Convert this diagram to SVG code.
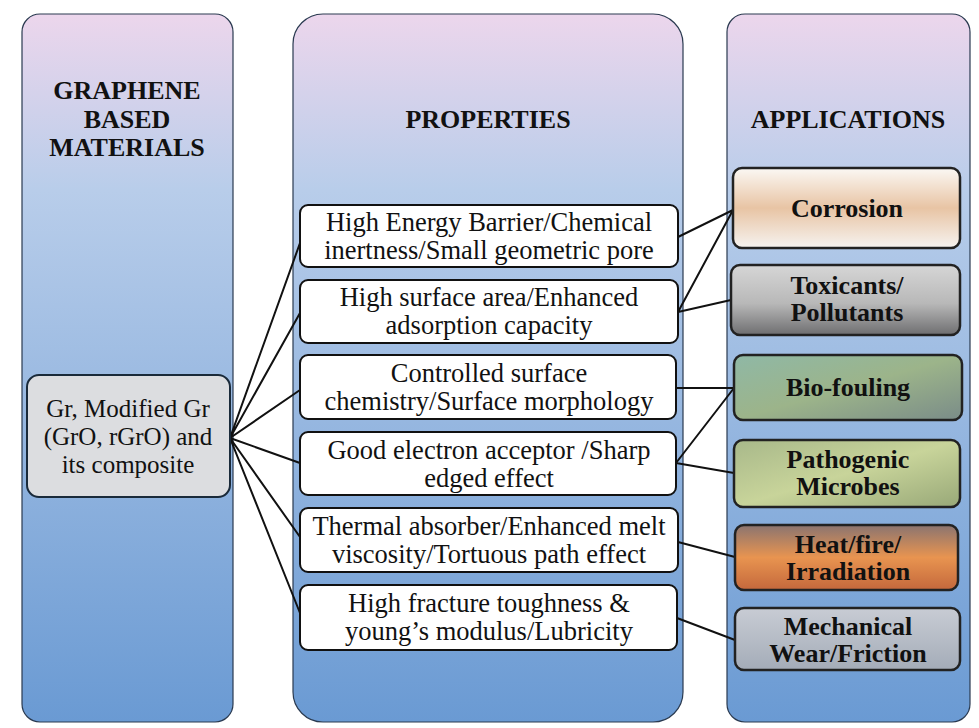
<svg xmlns="http://www.w3.org/2000/svg" width="979" height="728" viewBox="0 0 979 728">
<defs>
<linearGradient id="col" x1="0" y1="0" x2="0" y2="1">
<stop offset="0" stop-color="#ecd6ec"/><stop offset="0.25" stop-color="#b8cdea"/><stop offset="1" stop-color="#6a9ad3"/>
</linearGradient>
<linearGradient id="gCor" x1="0" y1="0" x2="0" y2="1"><stop offset="0" stop-color="#fbf8f4"/><stop offset="0.5" stop-color="#e8c4a4"/><stop offset="1" stop-color="#f6f3f0"/></linearGradient>
<linearGradient id="gTox" x1="0" y1="0" x2="0" y2="1"><stop offset="0" stop-color="#d6d6d6"/><stop offset="0.55" stop-color="#b8b8b8"/><stop offset="1" stop-color="#6e6e70"/></linearGradient>
<linearGradient id="gBio" x1="0" y1="0" x2="1" y2="1"><stop offset="0" stop-color="#8fb8a6"/><stop offset="0.5" stop-color="#9cb48a"/><stop offset="1" stop-color="#7a8c88"/></linearGradient>
<linearGradient id="gPat" x1="0" y1="0" x2="1" y2="1"><stop offset="0" stop-color="#a8b88a"/><stop offset="0.5" stop-color="#c8d49a"/><stop offset="1" stop-color="#98a878"/></linearGradient>
<linearGradient id="gHeat" x1="0" y1="0" x2="0" y2="1"><stop offset="0" stop-color="#8a7470"/><stop offset="0.5" stop-color="#e89450"/><stop offset="1" stop-color="#c4683c"/></linearGradient>
<linearGradient id="gMec" x1="0" y1="0" x2="0" y2="1"><stop offset="0" stop-color="#c8ccd4"/><stop offset="1" stop-color="#a4acb8"/></linearGradient>
</defs>
<style>
.col{fill:url(#col);stroke:#2a3a50;stroke-width:1.2}
.head{font-family:"Liberation Serif",serif;font-weight:bold;font-size:26px;fill:#111;text-anchor:middle}
.pbox{fill:#fff;stroke:#111;stroke-width:2}
.pt{font-family:"Liberation Serif",serif;font-size:26.5px;fill:#111;text-anchor:middle}
.gt{font-family:"Liberation Serif",serif;font-size:25px;fill:#111;text-anchor:middle}
.abox{stroke:#222;stroke-width:2.5}
.at{font-family:"Liberation Serif",serif;font-weight:bold;font-size:26px;fill:#111;text-anchor:middle}
.ln{stroke:#111;stroke-width:2;fill:none}
</style>
<g id="columns">
<rect class="col" x="22" y="14" width="211" height="708" rx="18"/>
<rect class="col" x="293" y="14" width="390" height="708" rx="30"/>
<rect class="col" x="727" y="14" width="243" height="708" rx="18"/>
<text class="head" x="127" y="99">GRAPHENE</text>
<text class="head" x="127" y="128">BASED</text>
<text class="head" x="127" y="156">MATERIALS</text>
<text class="head" x="488" y="128">PROPERTIES</text>
<text class="head" x="848" y="128">APPLICATIONS</text>
</g>
<g id="connectors">
<path class="ln" d="M230 438 L300 243 M230 438 L300 313 M230 438 L300 390 M230 438 L300 463 M230 438 L300 537 M230 438 L300 613"/>
<path class="ln" d="M678 237 L733 210 M678 312 L733 210 M678 312 L731 300 M676 388 L734 388 M676 463 L734 388 M676 463 L734 473 M678 542 L735 557 M677 618 L735 640"/>
</g>
<g id="gr">
<rect x="27" y="375" width="203" height="122" rx="12" fill="#dcdde0" stroke="#1a2a3a" stroke-width="2"/>
<text class="gt" x="128" y="417">Gr, Modified Gr</text>
<text class="gt" x="128" y="445">(GrO, rGrO) and</text>
<text class="gt" x="128" y="473">its composite</text>
</g>
<g id="p1"><rect class="pbox" x="300" y="205" width="378" height="62" rx="8"/>
<text class="pt" x="489" y="231">High Energy Barrier/Chemical</text><text class="pt" x="489" y="259">inertness/Small geometric pore</text></g>
<g id="p2"><rect class="pbox" x="300" y="280" width="378" height="63" rx="8"/>
<text class="pt" x="489" y="306">High surface area/Enhanced</text><text class="pt" x="489" y="334">adsorption capacity</text></g>
<g id="p3"><rect class="pbox" x="300" y="355" width="376" height="64" rx="8"/>
<text class="pt" x="489" y="382">Controlled surface</text><text class="pt" x="489" y="410">chemistry/Surface morphology</text></g>
<g id="p4"><rect class="pbox" x="300" y="432" width="376" height="63" rx="8"/>
<text class="pt" x="489" y="459">Good electron acceptor /Sharp</text><text class="pt" x="489" y="487">edged effect</text></g>
<g id="p5"><rect class="pbox" x="300" y="508" width="378" height="64" rx="8"/>
<text class="pt" x="489" y="535">Thermal absorber/Enhanced melt</text><text class="pt" x="489" y="563">viscosity/Tortuous path effect</text></g>
<g id="p6"><rect class="pbox" x="300" y="585" width="377" height="65" rx="8"/>
<text class="pt" x="489" y="612">High fracture toughness &amp;</text><text class="pt" x="489" y="640">young’s modulus/Lubricity</text></g>
<g id="a1"><rect class="abox" fill="url(#gCor)" x="733" y="168" width="227" height="80" rx="9"/>
<text class="at" x="847" y="217">Corrosion</text></g>
<g id="a2"><rect class="abox" fill="url(#gTox)" x="731" y="265" width="229" height="70" rx="9"/>
<text class="at" x="847" y="294">Toxicants/</text><text class="at" x="847" y="321">Pollutants</text></g>
<g id="a3"><rect class="abox" fill="url(#gBio)" x="734" y="355" width="228" height="65" rx="9"/>
<text class="at" x="848" y="396">Bio-fouling</text></g>
<g id="a4"><rect class="abox" fill="url(#gPat)" x="734" y="440" width="226" height="67" rx="9"/>
<text class="at" x="848" y="468">Pathogenic</text><text class="at" x="848" y="495">Microbes</text></g>
<g id="a5"><rect class="abox" fill="url(#gHeat)" x="735" y="525" width="223" height="65" rx="9"/>
<text class="at" x="848" y="553">Heat/fire/</text><text class="at" x="848" y="580">Irradiation</text></g>
<g id="a6"><rect class="abox" fill="url(#gMec)" x="735" y="608" width="225" height="62" rx="9"/>
<text class="at" x="848" y="635">Mechanical</text><text class="at" x="848" y="662">Wear/Friction</text></g>
</svg>
